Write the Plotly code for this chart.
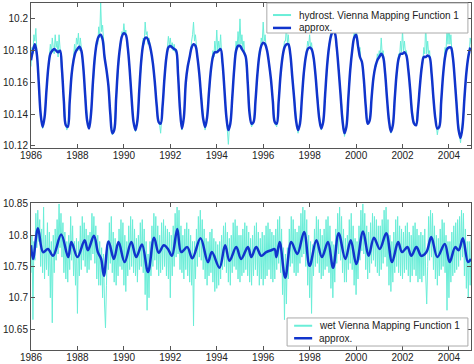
import plotly.graph_objects as go

START_YEAR = 1986

# hydrostatic VMF1: smoothed approximation, monthly values (Jan..Dec) 1986-2004
hydro_approx = [
    10.174, 10.180, 10.184, 10.178, 10.160, 10.140, 10.132, 10.138, 10.155, 10.170, 10.178, 10.180,
    10.181, 10.180, 10.179, 10.180, 10.168, 10.148, 10.133, 10.132, 10.148, 10.165, 10.174, 10.179,
    10.181, 10.1825, 10.180, 10.170, 10.152, 10.136, 10.131, 10.140, 10.160, 10.176, 10.185, 10.189,
    10.190, 10.187, 10.176, 10.168, 10.158, 10.140, 10.128, 10.130, 10.150, 10.170, 10.182, 10.189,
    10.191, 10.190, 10.182, 10.168, 10.150, 10.135, 10.130, 10.136, 10.156, 10.174, 10.184, 10.188,
    10.188, 10.185, 10.180, 10.172, 10.160, 10.145, 10.135, 10.134, 10.145, 10.163, 10.176, 10.182,
    10.183, 10.182, 10.181, 10.180, 10.165, 10.143, 10.131, 10.138, 10.160, 10.170, 10.176, 10.182,
    10.184, 10.183, 10.176, 10.165, 10.150, 10.137, 10.132, 10.138, 10.154, 10.168, 10.176, 10.179,
    10.179, 10.180, 10.181, 10.172, 10.155, 10.138, 10.130, 10.134, 10.150, 10.168, 10.180, 10.183,
    10.183, 10.181, 10.179, 10.176, 10.160, 10.140, 10.134, 10.135, 10.148, 10.165, 10.177, 10.183,
    10.185, 10.184, 10.180, 10.172, 10.162, 10.148, 10.135, 10.134, 10.148, 10.165, 10.176, 10.182,
    10.184, 10.184, 10.178, 10.164, 10.150, 10.136, 10.130, 10.134, 10.150, 10.166, 10.176, 10.181,
    10.182, 10.181, 10.176, 10.165, 10.150, 10.137, 10.131, 10.135, 10.152, 10.170, 10.182, 10.189,
    10.192, 10.191, 10.182, 10.168, 10.152, 10.136, 10.128, 10.132, 10.150, 10.168, 10.180, 10.188,
    10.190, 10.183, 10.176, 10.173, 10.162, 10.145, 10.134, 10.136, 10.150, 10.163, 10.170, 10.174,
    10.176, 10.178, 10.176, 10.166, 10.150, 10.136, 10.129, 10.133, 10.150, 10.166, 10.175, 10.178,
    10.178, 10.179, 10.177, 10.168, 10.155, 10.140, 10.134, 10.133, 10.143, 10.158, 10.170, 10.176,
    10.176, 10.177, 10.176, 10.166, 10.150, 10.137, 10.131, 10.132, 10.148, 10.165, 10.176, 10.181,
    10.182, 10.182, 10.176, 10.162, 10.145, 10.130, 10.125, 10.132, 10.150, 10.166, 10.176, 10.182,
]

# hydrostatic VMF1: observed series, two values per month 1986-2004
hydro_obs = [
    10.170, 10.182, 10.178, 10.190, 10.186, 10.194, 10.180, 10.172, 10.162, 10.150, 10.141, 10.134, 10.131, 10.133, 10.139, 10.145, 10.156, 10.163, 10.172, 10.176, 10.184, 10.178, 10.188, 10.182,
    10.178, 10.190, 10.182, 10.186, 10.176, 10.190, 10.182, 10.175, 10.168, 10.158, 10.147, 10.139, 10.133, 10.130, 10.133, 10.140, 10.149, 10.158, 10.166, 10.171, 10.176, 10.184, 10.178, 10.188,
    10.184, 10.191, 10.180, 10.188, 10.182, 10.176, 10.171, 10.162, 10.152, 10.144, 10.137, 10.133, 10.131, 10.134, 10.140, 10.149, 10.160, 10.168, 10.176, 10.182, 10.186, 10.184, 10.195, 10.188,
    10.210, 10.192, 10.196, 10.182, 10.178, 10.172, 10.168, 10.164, 10.158, 10.149, 10.140, 10.133, 10.127, 10.128, 10.131, 10.140, 10.150, 10.160, 10.170, 10.176, 10.184, 10.186, 10.192, 10.190,
    10.197, 10.190, 10.193, 10.186, 10.182, 10.176, 10.168, 10.159, 10.151, 10.142, 10.135, 10.132, 10.129, 10.132, 10.136, 10.146, 10.156, 10.165, 10.174, 10.180, 10.188, 10.184, 10.198, 10.190,
    10.192, 10.184, 10.188, 10.182, 10.180, 10.176, 10.172, 10.166, 10.160, 10.152, 10.145, 10.139, 10.135, 10.133, 10.128, 10.140, 10.145, 10.154, 10.163, 10.170, 10.176, 10.182, 10.189, 10.183,
    10.188, 10.182, 10.185, 10.180, 10.184, 10.179, 10.181, 10.172, 10.165, 10.154, 10.143, 10.136, 10.130, 10.133, 10.138, 10.149, 10.160, 10.166, 10.170, 10.173, 10.178, 10.180, 10.186, 10.190,
    10.198, 10.186, 10.190, 10.180, 10.176, 10.171, 10.165, 10.158, 10.150, 10.143, 10.137, 10.133, 10.130, 10.134, 10.138, 10.146, 10.154, 10.161, 10.170, 10.172, 10.180, 10.176, 10.186, 10.180,
    10.193, 10.180, 10.186, 10.180, 10.190, 10.178, 10.172, 10.164, 10.155, 10.146, 10.138, 10.132, 10.121, 10.131, 10.134, 10.142, 10.150, 10.160, 10.168, 10.174, 10.186, 10.181, 10.192, 10.184,
    10.200, 10.184, 10.190, 10.181, 10.186, 10.178, 10.176, 10.168, 10.160, 10.150, 10.140, 10.135, 10.132, 10.134, 10.135, 10.141, 10.148, 10.157, 10.165, 10.171, 10.180, 10.181, 10.188, 10.185,
    10.198, 10.186, 10.190, 10.182, 10.180, 10.176, 10.172, 10.167, 10.162, 10.155, 10.148, 10.141, 10.134, 10.133, 10.132, 10.141, 10.148, 10.157, 10.165, 10.170, 10.178, 10.180, 10.186, 10.186,
    10.195, 10.185, 10.190, 10.181, 10.178, 10.171, 10.164, 10.157, 10.150, 10.143, 10.136, 10.132, 10.128, 10.131, 10.134, 10.142, 10.150, 10.158, 10.166, 10.171, 10.178, 10.180, 10.186, 10.183,
    10.190, 10.182, 10.185, 10.179, 10.176, 10.171, 10.165, 10.158, 10.150, 10.143, 10.137, 10.133, 10.130, 10.132, 10.135, 10.143, 10.152, 10.161, 10.170, 10.177, 10.184, 10.186, 10.195, 10.190,
    10.210, 10.193, 10.198, 10.187, 10.182, 10.175, 10.168, 10.160, 10.152, 10.144, 10.136, 10.131, 10.126, 10.129, 10.132, 10.141, 10.150, 10.159, 10.168, 10.174, 10.182, 10.184, 10.192, 10.189,
    10.200, 10.188, 10.186, 10.179, 10.182, 10.174, 10.173, 10.168, 10.162, 10.154, 10.145, 10.139, 10.134, 10.135, 10.136, 10.143, 10.150, 10.157, 10.163, 10.167, 10.172, 10.170, 10.178, 10.175,
    10.180, 10.176, 10.188, 10.178, 10.180, 10.171, 10.166, 10.158, 10.150, 10.143, 10.136, 10.132, 10.128, 10.130, 10.133, 10.141, 10.150, 10.158, 10.166, 10.171, 10.178, 10.176, 10.186, 10.179,
    10.193, 10.180, 10.186, 10.179, 10.180, 10.172, 10.168, 10.162, 10.155, 10.148, 10.140, 10.137, 10.134, 10.133, 10.133, 10.138, 10.143, 10.150, 10.158, 10.164, 10.172, 10.172, 10.182, 10.178,
    10.197, 10.178, 10.186, 10.178, 10.180, 10.171, 10.166, 10.158, 10.150, 10.143, 10.137, 10.133, 10.127, 10.131, 10.132, 10.140, 10.148, 10.157, 10.165, 10.171, 10.182, 10.180, 10.194, 10.184,
    10.197, 10.184, 10.190, 10.180, 10.178, 10.170, 10.162, 10.153, 10.145, 10.137, 10.130, 10.126, 10.122, 10.128, 10.132, 10.141, 10.150, 10.158, 10.166, 10.171, 10.178, 10.178, 10.188, 10.184,
]

# wet VMF1: smoothed approximation, read at its turning points
wet_approx_t = [
    1986.0, 1986.09, 1986.3, 1986.52, 1986.73, 1986.95, 1987.3, 1987.6, 1987.74, 1988.0,
    1988.31, 1988.45, 1988.71, 1988.88, 1989.02, 1989.14, 1989.34, 1989.57, 1989.77, 1990.03,
    1990.32, 1990.53, 1990.78, 1991.04, 1991.3, 1991.5, 1991.72, 1991.9, 1992.07, 1992.3,
    1992.47, 1992.73, 1992.95, 1993.3, 1993.62, 1993.79, 1994.12, 1994.36, 1994.55, 1994.84,
    1995.05, 1995.34, 1995.49, 1995.7, 1995.92, 1996.13, 1996.35, 1996.49, 1996.57, 1996.71,
    1996.95, 1997.21, 1997.47, 1997.76, 1998.0, 1998.29, 1998.53, 1998.79, 1999.01, 1999.25,
    1999.54, 1999.77, 2000.01, 2000.3, 2000.54, 2000.77, 2001.02, 2001.3, 2001.55, 2001.81,
    2001.98, 2002.21, 2002.38, 2002.6, 2002.81, 2003.03, 2003.24, 2003.5, 2003.82, 2004.03,
    2004.27, 2004.42, 2004.6, 2004.82, 2004.95,
]
wet_approx_v = [
    10.784, 10.762, 10.811, 10.773, 10.778, 10.767, 10.801, 10.765, 10.789, 10.765,
    10.792, 10.776, 10.799, 10.773, 10.762, 10.735, 10.790, 10.762, 10.789, 10.757,
    10.789, 10.765, 10.785, 10.741, 10.796, 10.772, 10.784, 10.778, 10.767, 10.810,
    10.773, 10.781, 10.763, 10.795, 10.757, 10.773, 10.748, 10.784, 10.759, 10.781,
    10.762, 10.781, 10.765, 10.781, 10.767, 10.773, 10.776, 10.778, 10.765, 10.789,
    10.732, 10.789, 10.770, 10.805, 10.751, 10.792, 10.765, 10.789, 10.748, 10.803,
    10.762, 10.792, 10.754, 10.806, 10.767, 10.796, 10.778, 10.803, 10.757, 10.789,
    10.773, 10.781, 10.767, 10.781, 10.767, 10.773, 10.797, 10.765, 10.786, 10.757,
    10.781, 10.776, 10.795, 10.757, 10.762,
]

# wet VMF1: observed series, two values per month 1986-2004
wet_obs = [
    10.740, 10.800, 10.665, 10.790, 10.760, 10.835, 10.780, 10.840, 10.790, 10.825, 10.750, 10.810, 10.740, 10.845, 10.730, 10.800, 10.745, 10.820, 10.735, 10.805, 10.700, 10.790, 10.660, 10.800,
    10.740, 10.810, 10.760, 10.825, 10.770, 10.850, 10.780, 10.835, 10.765, 10.820, 10.740, 10.805, 10.730, 10.790, 10.725, 10.800, 10.745, 10.830, 10.760, 10.815, 10.735, 10.790, 10.720, 10.795,
    10.675, 10.790, 10.735, 10.815, 10.745, 10.830, 10.760, 10.820, 10.750, 10.810, 10.740, 10.800, 10.745, 10.805, 10.760, 10.835, 10.770, 10.830, 10.755, 10.815, 10.730, 10.800, 10.720, 10.790,
    10.720, 10.780, 10.700, 10.770, 10.690, 10.652, 10.720, 10.790, 10.745, 10.820, 10.755, 10.830, 10.740, 10.805, 10.725, 10.795, 10.720, 10.785, 10.735, 10.810, 10.750, 10.825, 10.745, 10.820,
    10.720, 10.800, 10.710, 10.790, 10.735, 10.815, 10.745, 10.830, 10.750, 10.825, 10.740, 10.810, 10.735, 10.795, 10.725, 10.800, 10.745, 10.820, 10.750, 10.825, 10.740, 10.810, 10.705, 10.790,
    10.680, 10.770, 10.700, 10.790, 10.735, 10.815, 10.750, 10.835, 10.760, 10.830, 10.745, 10.815, 10.735, 10.800, 10.740, 10.820, 10.745, 10.825, 10.750, 10.815, 10.735, 10.810, 10.730, 10.805,
    10.700, 10.800, 10.735, 10.815, 10.750, 10.835, 10.765, 10.845, 10.770, 10.840, 10.745, 10.815, 10.740, 10.800, 10.730, 10.810, 10.745, 10.820, 10.735, 10.810, 10.725, 10.800, 10.720, 10.790,
    10.655, 10.790, 10.730, 10.810, 10.750, 10.830, 10.765, 10.840, 10.760, 10.825, 10.745, 10.810, 10.730, 10.795, 10.720, 10.790, 10.735, 10.805, 10.740, 10.810, 10.725, 10.795, 10.710, 10.790,
    10.715, 10.785, 10.720, 10.790, 10.730, 10.800, 10.745, 10.815, 10.750, 10.820, 10.740, 10.805, 10.725, 10.795, 10.720, 10.800, 10.740, 10.820, 10.750, 10.825, 10.745, 10.815, 10.730, 10.800,
    10.725, 10.800, 10.735, 10.810, 10.740, 10.820, 10.745, 10.815, 10.735, 10.805, 10.725, 10.795, 10.720, 10.800, 10.735, 10.815, 10.745, 10.820, 10.735, 10.805, 10.720, 10.795, 10.730, 10.805,
    10.720, 10.800, 10.730, 10.815, 10.735, 10.820, 10.745, 10.810, 10.730, 10.805, 10.725, 10.800, 10.730, 10.810, 10.745, 10.825, 10.755, 10.830, 10.740, 10.810, 10.705, 10.780, 10.665, 10.770,
    10.690, 10.780, 10.730, 10.810, 10.750, 10.830, 10.755, 10.825, 10.740, 10.810, 10.735, 10.805, 10.740, 10.815, 10.755, 10.835, 10.765, 10.845, 10.770, 10.840, 10.750, 10.825, 10.720, 10.800,
    10.700, 10.790, 10.675, 10.785, 10.735, 10.810, 10.750, 10.830, 10.755, 10.825, 10.740, 10.810, 10.730, 10.800, 10.735, 10.810, 10.745, 10.825, 10.750, 10.830, 10.740, 10.815, 10.715, 10.790,
    10.700, 10.785, 10.725, 10.810, 10.755, 10.835, 10.770, 10.845, 10.760, 10.830, 10.740, 10.810, 10.725, 10.795, 10.725, 10.800, 10.745, 10.825, 10.755, 10.835, 10.745, 10.815, 10.720, 10.795,
    10.705, 10.790, 10.730, 10.815, 10.760, 10.840, 10.775, 10.850, 10.770, 10.835, 10.745, 10.815, 10.730, 10.805, 10.740, 10.820, 10.755, 10.835, 10.760, 10.830, 10.750, 10.825, 10.740, 10.815,
    10.735, 10.815, 10.745, 10.825, 10.755, 10.840, 10.765, 10.845, 10.750, 10.825, 10.720, 10.800, 10.710, 10.790, 10.725, 10.805, 10.740, 10.825, 10.750, 10.830, 10.740, 10.815, 10.735, 10.810,
    10.730, 10.805, 10.740, 10.815, 10.745, 10.820, 10.735, 10.805, 10.725, 10.800, 10.735, 10.815, 10.745, 10.820, 10.735, 10.810, 10.725, 10.800, 10.730, 10.805, 10.725, 10.800, 10.735, 10.810,
    10.735, 10.690, 10.750, 10.830, 10.760, 10.840, 10.765, 10.835, 10.745, 10.815, 10.730, 10.800, 10.720, 10.795, 10.735, 10.810, 10.745, 10.825, 10.750, 10.820, 10.740, 10.800, 10.680, 10.790,
    10.700, 10.790, 10.725, 10.805, 10.735, 10.815, 10.740, 10.820, 10.745, 10.825, 10.750, 10.830, 10.760, 10.840, 10.765, 10.835, 10.735, 10.810, 10.715, 10.790, 10.700, 10.790, 10.720, 10.800,
]

x_ticks = [1986, 1988, 1990, 1992, 1994, 1996, 1998, 2000, 2002, 2004]
hydro_ticks = [10.12, 10.14, 10.16, 10.18, 10.2]
hydro_tick_text = ["10.12", "10.14", "10.16", "10.18", "10.2"]
wet_ticks = [10.65, 10.7, 10.75, 10.8, 10.85]
wet_tick_text = ["10.65", "10.7", "10.75", "10.8", "10.85"]

labels_top = ["hydrost. Vienna Mapping Function 1", "approx."]
labels_bottom = ["wet Vienna Mapping Function 1", "approx."]

t_month = [START_YEAR + i / 12 for i in range(len(hydro_approx))]
t_half = [START_YEAR + i / 24 for i in range(len(hydro_obs))]
t_half_wet = [START_YEAR + i / 24 for i in range(len(wet_obs))]

CYAN = "#6aeed8"
BLUE = "#1034cc"
FONT = "Liberation Sans, Arial, sans-serif"
TXT = "#222"

fig = go.Figure()
fig.add_trace(go.Scatter(x=t_half, y=hydro_obs, mode="lines", name=labels_top[0],
                         line=dict(color=CYAN, width=1), xaxis="x", yaxis="y", showlegend=False))
fig.add_trace(go.Scatter(x=t_month, y=hydro_approx, mode="lines", name=labels_top[1],
                         line=dict(color=BLUE, width=2.5, shape="spline"), xaxis="x", yaxis="y", showlegend=False))
fig.add_trace(go.Scatter(x=t_half_wet, y=wet_obs, mode="lines", name=labels_bottom[0],
                         line=dict(color=CYAN, width=1), xaxis="x2", yaxis="y2", showlegend=False))
fig.add_trace(go.Scatter(x=wet_approx_t, y=wet_approx_v, mode="lines", name=labels_bottom[1],
                         line=dict(color=BLUE, width=2.5, shape="spline"), xaxis="x2", yaxis="y2", showlegend=False))

axis_common = dict(showline=True, linecolor="#555", linewidth=1, mirror="allticks",
                   ticks="inside", ticklen=4, tickcolor="#555", showgrid=False, zeroline=False,
                   automargin=False, tickfont=dict(family=FONT, size=10, color=TXT))


# legend boxes drawn in axis-domain units (box, two sample lines, two labels)
def legend_box(xa, ya, box, samples, text_x, rows, labels):
    shapes = [dict(type="rect", xref=xa + " domain", yref=ya + " domain",
                   x0=box[0], x1=box[1], y0=box[2], y1=box[3],
                   fillcolor="white", line=dict(color="#aaa", width=1), layer="above")]
    for (color, width), yy in zip(samples, rows):
        shapes.append(dict(type="line", xref=xa + " domain", yref=ya + " domain",
                           x0=box[4], x1=box[5], y0=yy, y1=yy,
                           line=dict(color=color, width=width), layer="above"))
    annotations = [dict(xref=xa + " domain", yref=ya + " domain", x=text_x, y=yy,
                        xanchor="left", yanchor="middle", text=lab, showarrow=False,
                        font=dict(family=FONT, size=10, color=TXT))
                   for lab, yy in zip(labels, rows)]
    return shapes, annotations


s1, a1 = legend_box("x", "y", (0.536, 0.993, 0.793, 1.0, 0.55, 0.591), [(CYAN, 2), (BLUE, 2.5)],
                    0.605, [0.917, 0.828], labels_top)
s2, a2 = legend_box("x2", "y2", (0.582, 0.993, 0.027, 0.218, 0.598, 0.639), [(CYAN, 2), (BLUE, 2.5)],
                    0.65, [0.165, 0.08], labels_bottom)

h_top = 145 / 347
h_bot = 147 / 347
fig.update_layout(
    width=474, height=364, autosize=False,
    margin=dict(l=31, r=3, t=3, b=14),
    paper_bgcolor="white", plot_bgcolor="white",
    font=dict(family=FONT, size=10, color=TXT),
    xaxis=dict(domain=[0, 1], range=[1986, 2004.95], tickvals=x_ticks, anchor="y",
               ticklabelstandoff=-2, **axis_common),
    yaxis=dict(domain=[1 - h_top, 1], range=[10.1187, 10.21], tickvals=hydro_ticks,
               ticktext=hydro_tick_text, anchor="x", **axis_common),
    xaxis2=dict(domain=[0, 1], range=[1986, 2004.95], tickvals=x_ticks, anchor="y2",
                ticklabelstandoff=-2, **axis_common),
    yaxis2=dict(domain=[0, h_bot], range=[10.6165, 10.8515], tickvals=wet_ticks,
                ticktext=wet_tick_text, anchor="x2", **axis_common),
    shapes=s1 + s2,
    annotations=a1 + a2,
    showlegend=False,
)

fig.write_html("out.html", config={"displayModeBar": False},
               post_script="document.body.style.margin='0';")
